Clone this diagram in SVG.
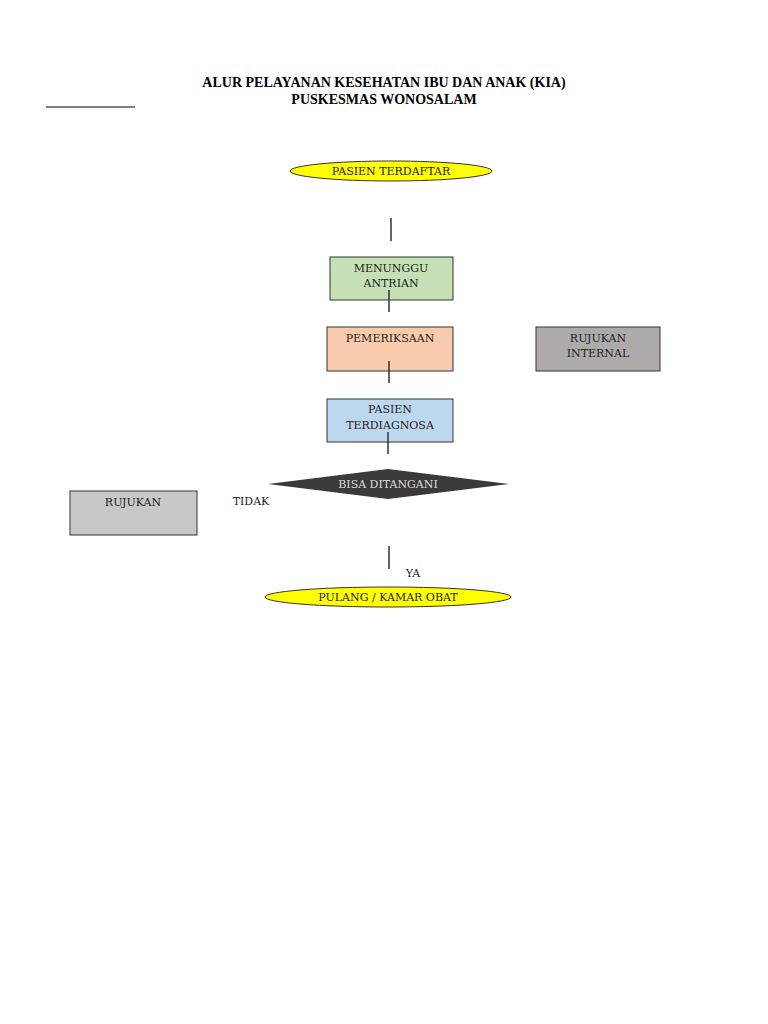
<svg xmlns="http://www.w3.org/2000/svg" width="768" height="1024" viewBox="0 0 768 1024">
<style>
.t{font-family:"DejaVu Serif","Liberation Serif",serif;font-size:11px;fill:#222;text-anchor:middle}
.h{font-family:"Liberation Serif",serif;font-size:14px;font-weight:bold;text-anchor:middle;fill:#000}
.b{stroke:#333;stroke-width:1}
.c{stroke:#333;stroke-width:1.5}
</style>
<rect width="768" height="1024" fill="#fff"/>
<text class="h" x="384" y="87">ALUR PELAYANAN KESEHATAN IBU DAN ANAK (KIA)</text>
<text class="h" x="384" y="104">PUSKESMAS WONOSALAM</text>
<line x1="46" y1="107" x2="135" y2="107" stroke="#000" stroke-width="1"/>
<g id="n1"><ellipse class="b" cx="391" cy="171" rx="101" ry="10" fill="#ffff00"/><text class="t" x="391" y="175">PASIEN TERDAFTAR</text></g>
<g id="n2"><rect class="b" x="330" y="257" width="123" height="43" fill="#c5e0b4"/><text class="t" x="391" y="272">MENUNGGU</text><text class="t" x="391" y="287">ANTRIAN</text></g>
<g id="n3"><rect class="b" x="327" y="327" width="126" height="44" fill="#f8cbad"/><text class="t" x="390" y="342">PEMERIKSAAN</text></g>
<g id="n4"><rect class="b" x="536" y="327" width="124" height="44" fill="#aeaaaa"/><text class="t" x="598" y="342">RUJUKAN</text><text class="t" x="598" y="357">INTERNAL</text></g>
<g id="n5"><rect class="b" x="327" y="399" width="126" height="43" fill="#bdd7ee"/><text class="t" x="390" y="413">PASIEN</text><text class="t" x="390" y="429">TERDIAGNOSA</text></g>
<g id="n6"><polygon points="268,484 388,469 509,484 388,499" fill="#3a3a3a"/><text class="t" x="388" y="488" style="fill:#ddd">BISA DITANGANI</text></g>
<g id="n7"><rect class="b" x="70" y="491" width="127" height="44" fill="#c8c8c8"/><text class="t" x="133" y="506">RUJUKAN</text></g>
<g id="n8"><ellipse class="b" cx="388" cy="597" rx="123" ry="10" fill="#ffff00"/><text class="t" x="388" y="601">PULANG / KAMAR OBAT</text></g>
<g id="connectors">
<line class="c" x1="391" y1="218" x2="391" y2="241"/>
<line class="c" x1="389" y1="290" x2="389" y2="312"/>
<line class="c" x1="389" y1="361" x2="389" y2="383"/>
<line class="c" x1="388" y1="432" x2="388" y2="454"/>
<line class="c" x1="389" y1="546" x2="389" y2="569"/>
<text class="t" x="251" y="505">TIDAK</text>
<text class="t" x="413" y="577">YA</text>
</g>
</svg>
